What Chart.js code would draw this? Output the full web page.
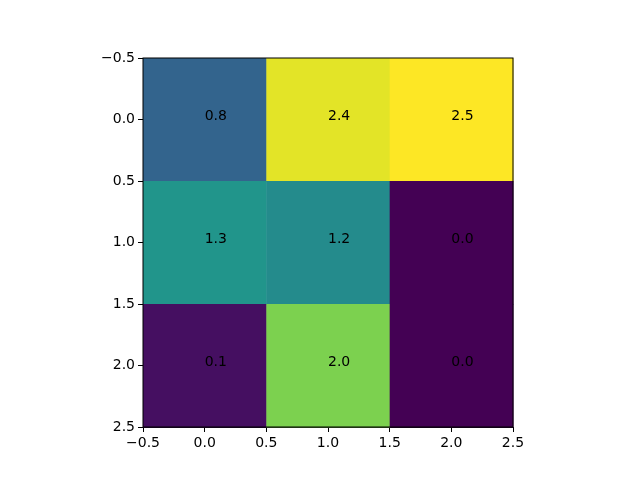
<!DOCTYPE html>
<html>
<head>
<script src="https://cdn.jsdelivr.net/npm/chart.js@4"></script>
<style>body{margin:0;background:#fff}</style>
</head>
<body>
<canvas id="c" width="640" height="480"></canvas>
<script>
const rows = [0, 1, 2];
const cols = [0, 1, 2];
const values = [
  [0.8, 2.4, 2.5],
  [1.3, 1.2, 0.0],
  [0.1, 2.0, 0.0]
];
const tickValues = [-0.5, 0.0, 0.5, 1.0, 1.5, 2.0, 2.5];

// viridis stops
const viridis = ['#440154', '#482878', '#3e4989', '#31688e', '#26828e',
  '#1f9e89', '#35b779', '#6ece58', '#b5de2b', '#fde725'];

function hex(h) { return [1, 3, 5].map(i => parseInt(h.substr(i, 2), 16)); }
function colorFor(v) {
  const t = Math.max(0, Math.min(1, v / 2.5)) * (viridis.length - 1);
  const i = Math.min(Math.floor(t), viridis.length - 2);
  const f = t - i;
  const a = hex(viridis[i]), b = hex(viridis[i + 1]);
  const c = a.map((x, k) => Math.round(x + (b[k] - x) * f));
  return `rgb(${c.join(',')})`;
}

const fmt = v => (v < 0 ? '\u2212' : '') + Math.abs(v).toFixed(1);

const heatmap = {
  id: 'heatmap',
  beforeDatasetsDraw(chart) {
    const { ctx, scales: { x, y } } = chart;
    rows.forEach(r => cols.forEach(c => {
      const x0 = x.getPixelForValue(c - 0.5), x1 = x.getPixelForValue(c + 0.5);
      const y0 = y.getPixelForValue(r - 0.5), y1 = y.getPixelForValue(r + 0.5);
      ctx.fillStyle = colorFor(values[r][c]);
      ctx.fillRect(x0, y0, x1 - x0 + 0.5, y1 - y0 + 0.5);
    }));
    ctx.fillStyle = '#000';
    ctx.font = '14px "DejaVu Sans"';
    ctx.textAlign = 'left';
    ctx.textBaseline = 'alphabetic';
    rows.forEach(r => cols.forEach(c => {
      ctx.fillText(values[r][c].toFixed(1), x.getPixelForValue(c), y.getPixelForValue(r));
    }));
    const a = chart.chartArea;
    ctx.strokeStyle = '#000';
    ctx.lineWidth = 1;
    ctx.strokeRect(a.left, a.top, a.right - a.left, a.bottom - a.top);
  }
};

const axisCommon = {
  type: 'linear', min: -0.5, max: 2.5,
  afterBuildTicks: s => { s.ticks = tickValues.map(v => ({ value: v })); },
  ticks: { color: '#000', font: { family: 'DejaVu Sans', size: 14 }, callback: fmt, autoSkip: false, maxRotation: 0 },
  grid: { drawOnChartArea: false, color: '#000', tickLength: 5 },
  border: { color: '#000' }
};

new Chart(document.getElementById('c'), {
  type: 'scatter',
  data: { datasets: [{ data: [] }] },
  options: {
    responsive: false,
    animation: false,
    layout: { padding: { left: 0, top: 58, right: 127, bottom: 0 } },
    plugins: { legend: { display: false }, tooltip: { enabled: false } },
    scales: {
      x: { ...axisCommon, afterFit: s => { s.height = 53; } },
      y: { ...axisCommon, reverse: true, afterFit: s => { s.width = 143; } }
    }
  },
  plugins: [heatmap]
});
</script>
</body>
</html>
